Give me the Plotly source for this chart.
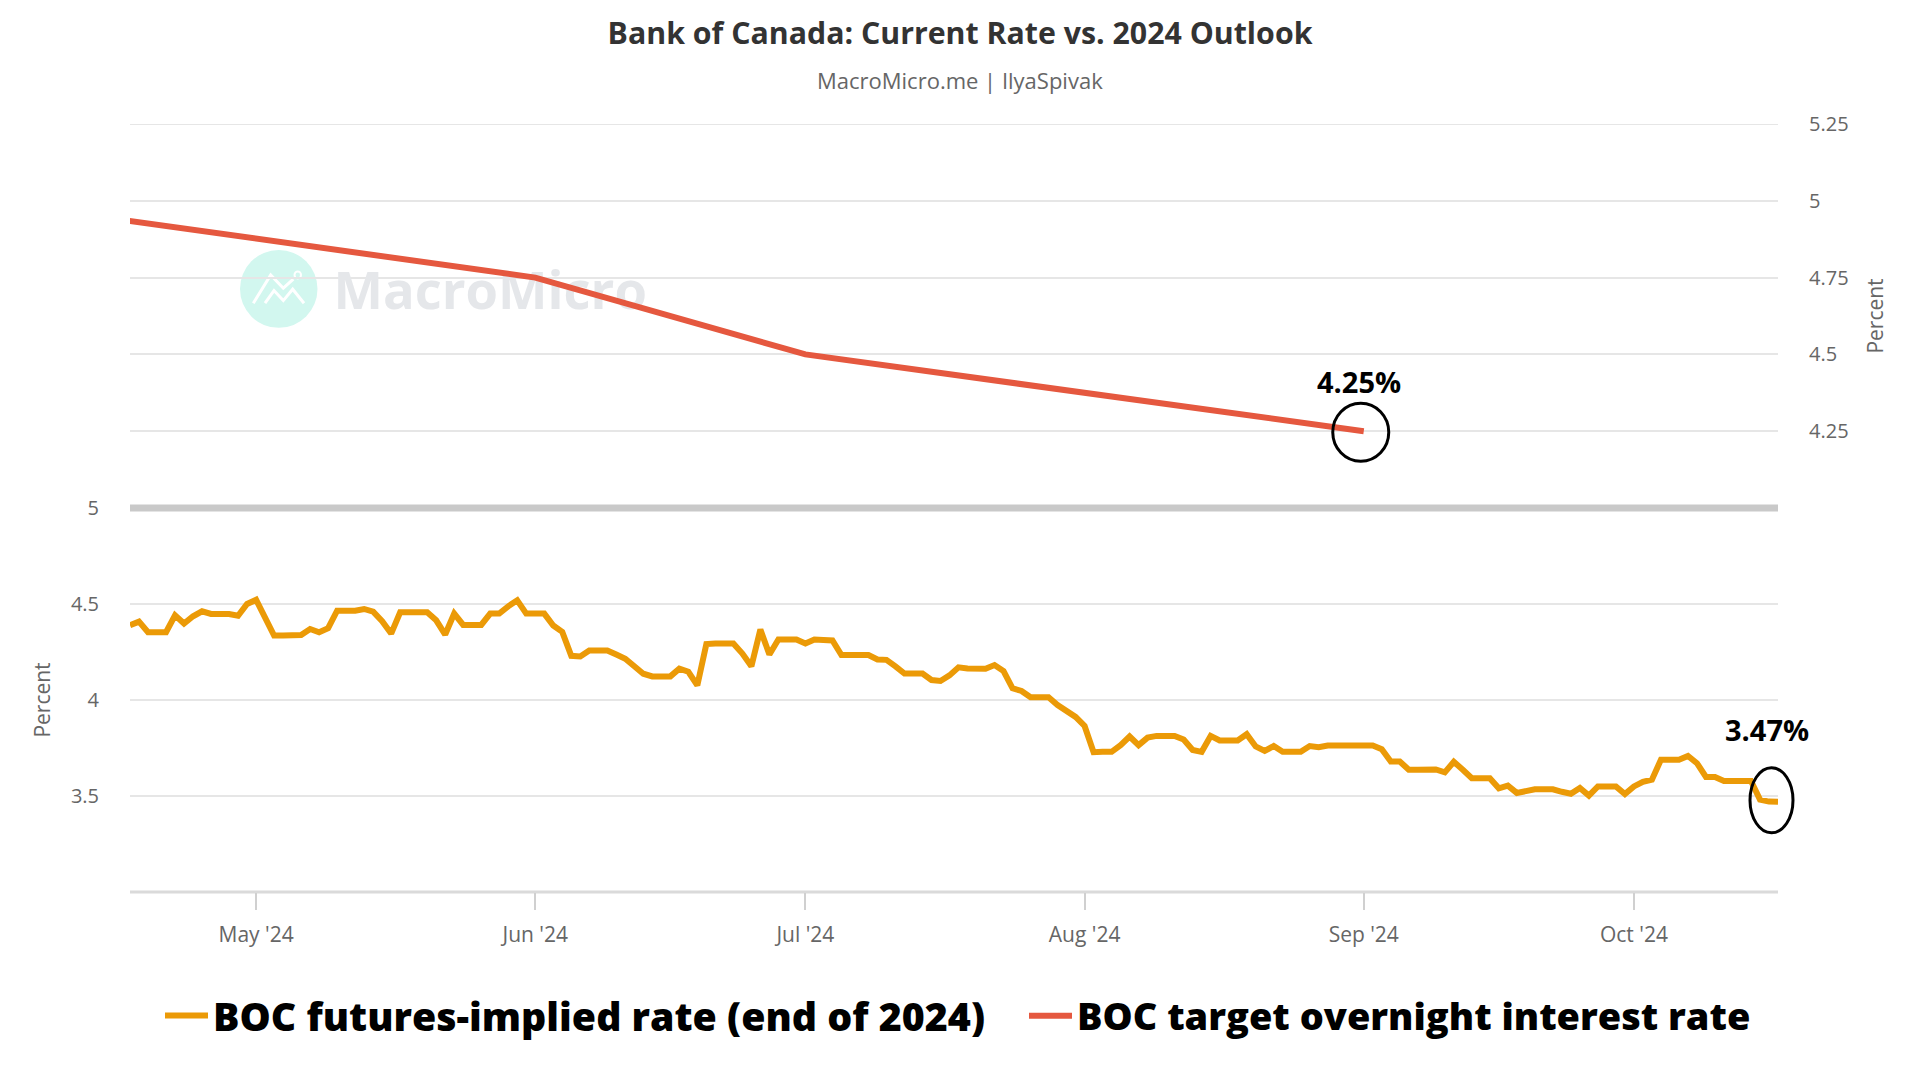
import pandas as pd
import plotly.graph_objects as go

TITLE = "Bank of Canada: Current Rate vs. 2024 Outlook"
SUBTITLE = "MacroMicro.me | IlyaSpivak"
FUT_NAME = "BOC futures-implied rate (end of 2024)"
TGT_NAME = "BOC target overnight interest rate"

futures_start = "2024-04-17"
futures_values = [
    4.389, 4.408, 4.353, 4.353, 4.353, 4.441, 4.398, 4.436, 4.462, 4.448, 4.448, 4.448,
    4.439, 4.500, 4.522, 4.436, 4.336, 4.336, 4.336, 4.339, 4.370, 4.353, 4.374, 4.465,
    4.465, 4.465, 4.474, 4.460, 4.410, 4.346, 4.457, 4.457, 4.457, 4.457, 4.415, 4.341,
    4.450, 4.391, 4.391, 4.391, 4.450, 4.450, 4.488, 4.519, 4.450, 4.450, 4.450, 4.388,
    4.355, 4.230, 4.227, 4.258, 4.258, 4.258, 4.237, 4.215, 4.176, 4.137, 4.123, 4.123,
    4.123, 4.163, 4.147, 4.076, 4.291, 4.294, 4.294, 4.294, 4.242, 4.176, 4.367, 4.237,
    4.315, 4.315, 4.315, 4.294, 4.315, 4.313, 4.310, 4.234, 4.234, 4.234, 4.234, 4.211,
    4.209, 4.175, 4.138, 4.138, 4.138, 4.104, 4.099, 4.128, 4.170, 4.164, 4.163, 4.163,
    4.182, 4.151, 4.061, 4.047, 4.014, 4.014, 4.014, 3.974, 3.941, 3.912, 3.865, 3.728,
    3.730, 3.730, 3.765, 3.810, 3.765, 3.804, 3.813, 3.813, 3.813, 3.794, 3.740, 3.730,
    3.813, 3.789, 3.789, 3.789, 3.822, 3.758, 3.735, 3.760, 3.730, 3.730, 3.730, 3.760,
    3.754, 3.763, 3.763, 3.763, 3.763, 3.763, 3.763, 3.744, 3.680, 3.680, 3.637, 3.637,
    3.637, 3.638, 3.623, 3.678, 3.637, 3.593, 3.593, 3.593, 3.540, 3.554, 3.516, 3.524,
    3.535, 3.535, 3.535, 3.522, 3.512, 3.542, 3.502, 3.550, 3.550, 3.550, 3.510, 3.550,
    3.574, 3.585, 3.689, 3.689, 3.689, 3.709, 3.671, 3.599, 3.599, 3.578, 3.578, 3.578,
    3.578, 3.481, 3.471, 3.470,
]
target_dates = ["2024-04-01", "2024-06-01", "2024-07-01", "2024-09-01"]
target_values = [5.0, 4.75, 4.5, 4.25]

x_tick_dates = ["2024-05-01", "2024-06-01", "2024-07-01", "2024-08-01", "2024-09-01", "2024-10-01"]
x_tick_labels = ["May '24", "Jun '24", "Jul '24", "Aug '24", "Sep '24", "Oct '24"]
low_ticks = [3.5, 4, 4.5, 5]
high_ticks = [4.25, 4.5, 4.75, 5, 5.25]

W, H = 1920, 1080
L, R, T, B = 130, 1778, 124, 892.5
FONT = "Open Sans, Noto Sans, sans-serif"
GREY = "#666666"
ORANGE = "#EB9A07"
RED = "#E5583F"
GRID = "#E6E6E6"


def px(x):
    return (x - L) / (R - L)


def py(y):
    return (B - y) / (B - T)


def poly(points, color="white", width=3):
    d = "M " + " L ".join("%f,%f" % (px(a), py(b)) for a, b in points)
    return dict(type="path", xref="paper", yref="paper", path=d,
                line=dict(color=color, width=width), layer="below")


def legend_at(x_px, size):
    return dict(
        orientation="h", xref="container", yref="container",
        x=x_px / W, xanchor="left", y=1 - 1016 / H, yanchor="middle",
        font=dict(family=FONT, size=size, color="black", weight=800),
        itemwidth=43, bgcolor="rgba(0,0,0,0)",
    )


futures_dates = pd.date_range(futures_start, periods=len(futures_values), freq="D")

fig = go.Figure()
fig.add_trace(go.Scatter(
    x=["2024-05-27"], y=[4.69], yaxis="y2", mode="text", text=["MacroMicro"],
    textposition="middle center", showlegend=False, hoverinfo="skip",
    textfont=dict(family=FONT, size=52.5, color="#E5E7EA", weight=700),
))
fig.add_trace(go.Scatter(
    x=futures_dates, y=futures_values, name=FUT_NAME, yaxis="y", mode="lines",
    line=dict(color=ORANGE, width=6), legend="legend",
))
fig.add_trace(go.Scatter(
    x=target_dates, y=target_values, name=TGT_NAME, yaxis="y2", mode="lines",
    line=dict(color=RED, width=6), legend="legend2", showlegend=True,
))

shapes = [
    dict(type="line", xref="paper", yref="paper", x0=0, x1=1, y0=0, y1=0,
         line=dict(color="#DADADA", width=3), layer="below"),
    dict(type="line", xref="paper", yref="paper", x0=0, x1=1, y0=0.5, y1=0.5,
         line=dict(color="#C9C9C9", width=7), layer="below"),
    dict(type="line", xref="paper", yref="y2", x0=0, x1=1, y0=5.25, y1=5.25,
         line=dict(color=GRID, width=2), layer="below"),
    dict(type="circle", xref="paper", yref="paper", x0=px(240), x1=px(317.5), y0=py(250), y1=py(328),
         fillcolor="#D2F7EF", line=dict(width=0), layer="below"),
    poly([(253.3, 303.3), (270.7, 275), (283.3, 288.3), (293.3, 279.3)]),
    poly([(265, 303.3), (274, 290.7), (283.3, 300.7), (292.7, 289.3), (304, 303.3)]),
    dict(type="circle", xref="paper", yref="paper", x0=px(294.5), x1=px(301), y0=py(271.5), y1=py(278.5),
         line=dict(color="white", width=2), layer="below"),
    dict(type="circle", xref="x", yref="y2", xsizemode="pixel", ysizemode="pixel",
         xanchor="2024-09-01", yanchor=4.25, x0=-31, x1=25, y0=-30, y1=28,
         line=dict(color="black", width=3)),
    dict(type="circle", xref="paper", yref="y", xsizemode="pixel", ysizemode="pixel",
         xanchor=1, yanchor=3.47, x0=-28, x1=15, y0=-31, y1=34,
         line=dict(color="black", width=3)),
]

annotations = [
    dict(text=SUBTITLE, xref="paper", yref="paper", x=px(960), y=py(80), showarrow=False,
         xanchor="center", yanchor="middle", font=dict(family=FONT, size=22, color=GREY)),
    dict(text="<b>4.25%</b>", xref="x", yref="y2", x="2024-09-01", y=4.25, yshift=50, xshift=-5,
         showarrow=False, xanchor="center", yanchor="middle",
         font=dict(family=FONT, size=29, color="black")),
    dict(text="<b>3.47%</b>", xref="paper", yref="y", x=1, y=3.47, yshift=72, xshift=-11,
         showarrow=False, xanchor="center", yanchor="middle",
         font=dict(family=FONT, size=29, color="black")),
]

fig.update_layout(
    width=W, height=H, autosize=False,
    paper_bgcolor="white", plot_bgcolor="white",
    margin=dict(l=L, r=W - R, t=T, b=H - B, pad=0),
    font=dict(family=FONT, color=GREY),
    title=dict(text="<b>%s</b>" % TITLE, x=0.5, xanchor="center", xref="container",
               y=1 - 33 / H, yanchor="middle", yref="container",
               font=dict(family=FONT, size=30.3, color="#333333")),
    xaxis=dict(
        type="date", range=["2024-04-17", "2024-10-17"], anchor="y",
        tickmode="array", tickvals=x_tick_dates, ticktext=x_tick_labels,
        ticks="outside", ticklen=17, tickwidth=2, tickcolor="#D0D0D0",
        showline=False, showgrid=False, zeroline=False,
        tickfont=dict(family=FONT, size=21, color=GREY), ticklabelstandoff=7,
    ),
    yaxis=dict(
        domain=[0, 0.5], range=[3, 5], anchor="x", side="left",
        tickmode="array", tickvals=low_ticks, ticktext=["3.5", "4", "4.5", "5"],
        showgrid=True, gridcolor=GRID, gridwidth=2, zeroline=False, ticks="",
        tickfont=dict(family=FONT, size=20, color=GREY), ticklabelstandoff=30,
        title=dict(text="Percent", font=dict(family=FONT, size=21, color=GREY), standoff=14),
    ),
    yaxis2=dict(
        domain=[0.5, 1], range=[4, 5.25], anchor="x", side="right",
        tickmode="array", tickvals=high_ticks, ticktext=["4.25", "4.5", "4.75", "5", "5.25"],
        showgrid=True, gridcolor=GRID, gridwidth=2, zeroline=False, ticks="",
        tickfont=dict(family=FONT, size=20, color=GREY), ticklabelstandoff=30,
        title=dict(text="Percent", font=dict(family=FONT, size=21, color=GREY), standoff=20),
    ),
    legend=legend_at(160, 39.3),
    legend2=legend_at(1024, 37.9),
    shapes=shapes, annotations=annotations,
)

fig.write_html("out.html", config={"displayModeBar": False},
               post_script="document.body.style.margin='0';")
